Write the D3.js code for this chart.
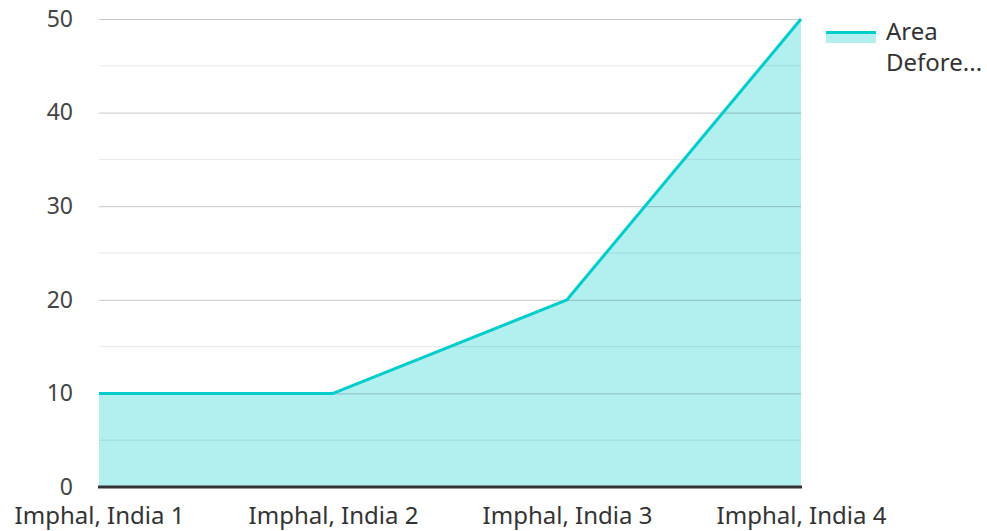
<!DOCTYPE html>
<html>
<head>
<meta charset="utf-8">
<script src="https://cdn.jsdelivr.net/npm/d3@7/dist/d3.min.js"></script>
<style>
  html, body { margin: 0; padding: 0; background: #fff; }
  svg { display: block; font-family: "Noto Sans", "Open Sans", sans-serif; }
</style>
</head>
<body>
<svg id="chart" width="987" height="531"></svg>
<script>
// Chart data
const categories = ["Imphal, India 1", "Imphal, India 2", "Imphal, India 3", "Imphal, India 4"];
const seriesName = "Area Defore...";
const values = [10, 10, 20, 50];
const yTicks = [0, 10, 20, 30, 40, 50];

const W = 987, H = 531;
const margin = { left: 99, right: 186, top: 19, bottom: 44 };
const lineColor = "#00cccc";
const fontFamily = "'Noto Sans', 'Open Sans', sans-serif";

const svg = d3.select("#chart");

const x = d3.scalePoint().domain(categories).range([margin.left, W - margin.right]).padding(0);
const y = d3.scaleLinear().domain([0, 50]).range([H - margin.bottom, margin.top]);

const data = categories.map((c, i) => ({ c, v: values[i] }));

// filled area under the line
svg.append("path")
  .datum(data)
  .attr("fill", lineColor)
  .attr("fill-opacity", 0.3)
  .attr("d", d3.area().x(d => x(d.c)).y0(y(0)).y1(d => y(d.v)));

// minor grid lines (every 5)
const minor = d3.range(5, 50, 10);
svg.append("g").selectAll("line").data(minor).join("line")
  .attr("x1", margin.left).attr("x2", W - margin.right)
  .attr("y1", d => y(d)).attr("y2", d => y(d))
  .attr("stroke", "#000").attr("stroke-opacity", 0.09).attr("stroke-width", 1);

// major grid lines via axis
const yAxis = svg.append("g")
  .attr("transform", `translate(${margin.left},0)`)
  .call(d3.axisLeft(y).tickValues(yTicks).tickSize(-(W - margin.left - margin.right)).tickPadding(26));
yAxis.select(".domain").remove();
yAxis.selectAll(".tick line")
  .attr("stroke", "#000").attr("stroke-opacity", d => d === 0 ? 0 : 0.22);
yAxis.selectAll(".tick text")
  .attr("font-size", 23).attr("fill", "#444").attr("font-family", fontFamily);

// line
svg.append("path")
  .datum(data)
  .attr("fill", "none")
  .attr("stroke", lineColor)
  .attr("stroke-width", 3)
  .attr("stroke-linejoin", "round")
  .attr("d", d3.line().x(d => x(d.c)).y(d => y(d.v)));

// x axis
const xAxis = svg.append("g")
  .attr("transform", `translate(0,${y(0)})`)
  .call(d3.axisBottom(x).tickSize(0).tickPadding(20));
xAxis.select(".domain")
  .attr("d", `M${margin.left - 1},0H${W - margin.right + 1}`)
  .attr("stroke", "#333").attr("stroke-width", 3);
xAxis.selectAll(".tick text")
  .attr("font-size", 24).attr("fill", "#333").attr("font-family", fontFamily);

// legend
const lg = svg.append("g").attr("transform", "translate(826,31)");
lg.append("rect").attr("x", 0).attr("y", 0).attr("width", 50).attr("height", 12)
  .attr("fill", lineColor).attr("fill-opacity", 0.3);
lg.append("line").attr("x1", 0).attr("x2", 50).attr("y1", 1.5).attr("y2", 1.5)
  .attr("stroke", lineColor).attr("stroke-width", 3);
const words = ["Area", "Defore..."];
lg.selectAll("text.lbl").data(words).join("text")
  .attr("class", "lbl")
  .attr("x", 60).attr("y", (d, i) => 9 + i * 31)
  .attr("font-size", 24).attr("fill", "#333").attr("font-family", fontFamily)
  .text(d => d);
</script>
</body>
</html>
